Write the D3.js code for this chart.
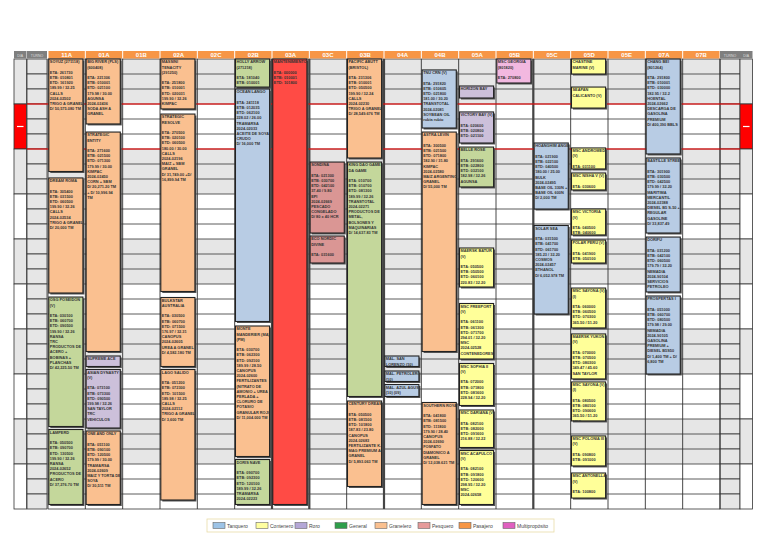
<!DOCTYPE html>
<html><head><meta charset="utf-8">
<script src="https://cdn.jsdelivr.net/npm/d3@7"></script>
<style>body{margin:0;background:#fff}svg{display:block;font-family:"Liberation Sans",Arial,sans-serif}</style>
</head><body><svg id="c" width="768" height="543"></svg>
<script>
const berths = ["11A","01A","01B","02A","02C","02B","03A","03C","03B","04A","04B","05A","05B","05C","05D","05E","07A","07B"];
const nDays = 10, shiftsPerDay = 3;
const redDay = 1;
const typeNames = ["Tanquero","Contenero","Roro","General","Granelero","Pesquero","Pasajero","Multipropósito"];
const typeColors = ["#b8cce4","#ffff99","#ccc0da","#c4d79b","#fac090","#da9694","#f79646","#f2b8e0"];
const legendSwatch = ["#9dc3e6","#ffffa0","#b4a7d6","#2e9e4a","#fac090","#e69a9a","#f79646","#e060c0"];
// [berth, start shift, end shift, type, text]
const ships = [
 ["11A",0,7.5,"Granelero","SOYUZ (271118)||ETA: 261730|ETB: 010801|ETD: 161920|189.99 / 32.25|CALLS|2024-02502|TRIGO A GRANEL|D/ 50,575.080 TM"],
 ["11A",7.93,15.6,"Granelero","DREAM ROMA||ETA: 305400|ETB: 031500|ETD: 060500|199.90 / 32.26|CALLS|2024-02534|TRIGO A GRANEL|D/ 20,000 TM"],
 ["11A",15.87,24.5,"General","OSG POSEIDON|(V)||ETA: 030100|ETB: 060700|ETD: 090500|199.90 / 32.26|RANSA|TRC|PRODUCTOS DE|ACERO +|BOBINAS +|PLANCHAS|D/ 42,225.50 TM"],
 ["11A",24.7,29.7,"General","LAMPERD||ETA: 050500|ETB: 090700|ETD: 130500|199.90 / 32.26|RANSA|2024-02652|PRODUCTOS DE|ACERO|D/ 37,276.70 TM"],
 ["01A",0,4.33,"Granelero","BIG RIVER (PLS)|(600408)||ETA: 221306|ETB: 010001|ETD: 021100|179.98 / 30.00|AGUNSA|2024-02436|SODA ASH A|GRANEL"],
 ["01A",4.87,19.5,"Granelero","STRATEGIC|ENTITY||ETA: 271600|ETB: 021500|ETD: 071300|179.99 / 30.00|KIMPAC|2024-02450|CORN + SBM|D/ 20,271.20 TM|+ D/ 10,996.94|TM"],
 ["01A",19.8,20.5,"Roro","SUPREME ACE"],
 ["01A",20.7,24.6,"Roro","ASIAN DYNASTY|(V)||ETA: 073100|ETB: 073300|ETD: 090500|199.98 / 32.26|SAN TAYLOR|TRC|VEHICULOS"],
 ["01A",24.8,29.7,"Granelero","ONE AND ONLY||ETA: 051100|ETB: 090100|ETD: 120500|179.99 / 30.00|TRAMARSA|2024-02609|MAIZ Y TORTA DE|SOYA|D/ 30,511 TM"],
 ["02A",0,3.33,"Granelero","MASSINI|TENACITY|(291250)||ETA: 251800|ETB: 010001|ETD: 020031|199.90 / 32.26|KIMPAC"],
 ["02A",3.67,15.5,"Granelero","STRATEGIC|RESOLVE||ETA: 270500|ETB: 020100|ETD: 060500|180.00 / 30.00|CALLS|2024-02196|MAIZ + SBM|GRANEL|D/ 31,749.00 +D/|16,899.94 TM"],
 ["02A",15.9,20.5,"Granelero","BULKSTAR|AUSTRALIA||ETA: 030500|ETB: 060700|ETD: 071500|176.97 / 32.31|CANOPUS|2024-02605|UREA A GRANEL|D/ 4,582.180 TM"],
 ["02A",20.7,29.4,"Granelero","LAGO SALIDO||ETA: 051200|ETB: 072300|ETD: 101500|189.98 / 32.25|CALLS|2024-02112|TRIGO A GRANEL|D/ 3,600 TM"],
 ["02B",0,1.87,"General","HOLLY ARROW|(271218)||ETA: 181040|ETB: 010001"],
 ["02B",2,17.5,"Tanquero","OCEAN LANGO||ETA: 241118|ETB: 012035|ETD: 062100|228.02 / 26.00|TRAMARSA|2024-02033|ACEITE DE SOYA|CRUDO|D/ 16,000 TM"],
 ["02B",17.8,26.5,"Granelero","MONTE|MANDERIER (MA)|(PM)||ETA: 030700|ETB: 062300|ETD: 092100|189.99 / 28.50|CANOPUS|2024-02600|FERTILIZANTES|(NITRATO DE|AMONIO + UREA|PERLADA +|CLORURO DE|POTASIO|GRANULAR ROJO)|D/ 11,004.000 TM"],
 ["02B",26.7,29.7,"General","DORIS NAVE||ETA: 090700|ETB: 092300|ETD: 120100|189.99 / 32.26|TRAMARSA|2024-02223"],
 ["03A",0,29.7,"Pasajero","MANTENIMIENTO||ETA: 000000|ETB: 010001|ETD: 101800"],
 ["03C",6.87,11.6,"Pesquero","SONDINA||ETA: 021300|ETB: 030700|ETD: 042100|37.40 / 9.80|EPI|2024-02669|PESCADO|CONGELADO|D/ 80 x 40 HCR"],
 ["03C",11.8,13.6,"Pesquero","ECO NORDIC|DIVINE||ETA: 031600"],
 ["03B",0,6.6,"Granelero","PACIFIC ABUTT|(BRISTOL)||ETA: 231306|ETB: 010001|ETD: 050500|199.90 / 32.24|CALLS|2024-02230|TRIGO A GRANEL|D/ 28,549.676 TM"],
 ["03B",6.87,22.5,"General","KING DAO GAME|DA GAME||ETA: 010700|ETB: 010700|ETD: 081300|189.99 / 32.26|TRANSTOTAL|2024-02271|PRODUCTOS DE|METAL,|BOLSONES Y|MAQUINARIAS|D/ 14,637.83 TM"],
 ["03B",22.8,28.5,"Granelero","CENTURY DREAM||ETA: 050500|ETB: 081500|ETD: 101800|187.83 / 23.80|CANOPUS|2024-02683|FERTILIZANTE K-|MAG PREMIUM A|GRANEL|D/ 5,893.063 TM"],
 ["04A",19.8,20.5,"Tanquero","MAL. SAN|LORENZO (10)"],
 ["04A",20.8,21.5,"Tanquero","MAL. PETROLERO|(10)"],
 ["04A",21.7,22.5,"Tanquero","MAL. AZUL AGUSTO|(10) (09)"],
 ["04B",0.73,4.6,"Tanquero","TNU CRN (V)||ETA: 291820|ETB: 010605|ETD: 021800|181.00 / 30.20|TRANSTOTAL|2024-02081|SOYBEAN OIL|rubia rubio"],
 ["04B",4.87,19.5,"Granelero","ASTRA LEVIN||ETA: 300500|ETB: 021500|ETD: 071800|182.90 / 31.80|KIMPAC|2024-02580|MAIZ ARGENTINO|GRANEL|D/ 55,000 TM"],
 ["04B",22.9,29.7,"Granelero","SOUTHERN ROYALS||ETA: 041800|ETB: 081500|ETD: 111800|179.90 / 28.40|CANOPUS|2024-02690|FOSFATO|DIAMONICO A|GRANEL|D/ 12,038.621 TM"],
 ["05A",1.8,2.6,"Roro","HORIZON BAY"],
 ["05A",3.53,5.6,"Roro","VICTORY BAY (V)||ETA: 020600|ETB: 020800|ETD: 021100"],
 ["05A",5.87,8.53,"General","BELLE ROSE||ETA: 291600|ETB: 022800|ETD: 032100|182.98 / 32.26|AGUNSA"],
 ["05A",12.6,15.2,"Contenero","MAERSK BATUR|(V)||ETA: 050500|ETB: 050500|ETD: 060100|220.83 / 32.20"],
 ["05A",16.3,20,"Contenero","MSC FREEPORT|(V)||ETA: 061100|ETB: 061300|ETD: 071700|294.01 / 32.20|MSC|2024-02528|CONTENEDORES"],
 ["05A",20.3,23.1,"Contenero","MSC SOPHIA II|(V)||ETA: 072000|ETB: 071800|ETD: 081600|228.94 / 32.20"],
 ["05A",23.4,25.9,"Contenero","MSC DARIANA (V)||ETA: 082100|ETB: 082000|ETD: 091600|216.88 / 32.22"],
 ["05A",26.1,29.7,"Contenero","MSC ACAPULCO|(V)||ETA: 082100|ETB: 091800|ETD: 120600|298.95 / 32.20|MSC|2024-02658"],
 ["05B",0,1.6,"Multipropósito","MSC GEORGIA|(801820)||ETA: 270800"],
 ["05C",5.6,10,"Tanquero","HOANGHIM ANGEL||ETA: 021900|ETB: 022100|ETD: 040500|180.00 / 25.00|BULK|2024-02495|BASE OIL 330N +|BASE OIL 600N|D/ 2,000 TM"],
 ["05C",11.1,17,"Tanquero","SOLAR SEA||ETA: 031500|ETB: 041700|ETD: 061700|185.23 / 32.20|COSMOS|2024-02457|ETHANOL|D/ 6,052.978 TM"],
 ["05D",0,1,"Contenero","CHASTINE|MARINE (V)"],
 ["05D",1.87,3.27,"Contenero","SEAPAN|CALICANTO (V)"],
 ["05D",5.93,7.33,"Contenero","MSC ANDROMEDA|(V)||ETA: 031100"],
 ["05D",7.6,8.73,"Contenero","MSC NISHA V (V)||ETA: 030600"],
 ["05D",10,11.73,"Contenero","MSC VICTORIA|(V)||ETA: 040500|ETB: 040600"],
 ["05D",12.07,13.6,"Contenero","POLAR PERU (V)||ETA: 041900|ETB: 050100"],
 ["05D",15.27,17.93,"Contenero","MSC SAYONA (V)|(I)||ETA: 060000|ETB: 060500|ETD: 070300|365.50 / 51.20"],
 ["05D",18.33,21.33,"Contenero","MAERSK YUKON|(V)||ETA: 070000|ETB: 070500|ETD: 080300|349.47 / 45.60|SAN TAYLOR"],
 ["05D",21.53,24.13,"Contenero","MSC SAYONA (V)|(I)||ETA: 080500|ETB: 080100|ETD: 090600|365.50 / 51.20|MSC"],
 ["05D",25.13,27.13,"Contenero","MSC POLONIA III|(V)||ETA: 090800|ETB: 091000"],
 ["05D",27.6,29.27,"Contenero","MSC ANTONELLA|(V)||ETA: 100800"],
 ["07A",0,6.33,"Tanquero","CHANG BEI|(801264)||ETA: 291800|ETB: 010001|ETD: 030000|182.95 / 32.2|HOENTAL|2024-02662|DESCARGA DE|GASOLINA|PREMIUM|D/ 400,390 BBLS"],
 ["07A",6.6,11.6,"Tanquero","BASTILLE STREET||ETA: 301900|ETB: 030500|ETD: 042500|179.99 / 32.20|MARITIMA|MERCANTIL|2024-02388|DIESEL B5 S-50 +|REGULAR|GASOLINE|D/ 33,837.49"],
 ["07A",11.87,15.53,"Tanquero","DORIFU||ETA: 031200|ETB: 042100|ETD: 060500|179.79 / 32.20|NEMADIA|2024-90104|SERVICIOS|PETROLEO"],
 ["07A",15.8,21,"Tanquero","PROSPERTAS I||ETA: 051000|ETB: 060700|ETD: 080500|179.98 / 29.00|NEMADIA|2024-90105|GASOLINA|PREMIUM +|DIESEL B5S50|D/ 1,400 TM + D/|6,800 TM"]
];

const svg = d3.select("#c");
const x = d3.scaleBand().domain(berths).range([48,720]);
const y = d3.scaleLinear().domain([0, nDays*shiftsPerDay]).range([59,509]);
const color = d3.scaleOrdinal().domain(typeNames).range(typeColors);
const shifts = d3.range(nDays*shiftsPerDay);

const g = svg.append("g");
shifts.forEach(s=>{
  const day = Math.floor(s/3);
  const fill = day%2===0 ? "#e6e6e6" : "#ffffff";
  g.append("rect").attr("x",48).attr("y",y(s)).attr("width",672).attr("height",y(s+1)-y(s)).attr("fill",fill);
  g.append("rect").attr("x",27).attr("y",y(s)).attr("width",20).attr("height",y(s+1)-y(s)).attr("fill","#e6e6e6").attr("stroke","#333").attr("stroke-width",0.8);
  g.append("rect").attr("x",720).attr("y",y(s)).attr("width",20).attr("height",y(s+1)-y(s)).attr("fill","#e6e6e6").attr("stroke","#333").attr("stroke-width",0.8);
});
d3.range(nDays).forEach(d=>{
  const f = d===redDay ? "#ff0000" : (d%2===0 ? "#e6e6e6" : "#ffffff");
  [14,740].forEach(xx=>{
    g.append("rect").attr("x",xx).attr("y",y(d*3)).attr("width",12.5).attr("height",y(d*3+3)-y(d*3)).attr("fill",f).attr("stroke","#333").attr("stroke-width",0.8);
    if(d===redDay) g.append("rect").attr("x",xx+3).attr("y",(y(d*3)+y(d*3+3))/2-0.6).attr("width",6.5).attr("height",1.2).attr("fill","#fff");
  });
});
shifts.concat([30]).forEach(s=>{
  g.append("line").attr("x1",48).attr("x2",720).attr("y1",y(s)).attr("y2",y(s)).attr("stroke","#333").attr("stroke-width",0.8);
});
berths.forEach(b=>{
  g.append("line").attr("x1",x(b)).attr("x2",x(b)).attr("y1",59).attr("y2",509).attr("stroke","#333").attr("stroke-width",0.9);
});
g.append("line").attr("x1",720).attr("x2",720).attr("y1",59).attr("y2",509).attr("stroke","#333");
["03A","03C","04A","05C"].forEach(b=>{
  g.append("line").attr("x1",x(b)).attr("x2",x(b)).attr("y1",59).attr("y2",509).attr("stroke","#444").attr("stroke-width",2.2);
});
[redDay*3, redDay*3+3].forEach(s=>{
  g.append("line").attr("x1",27).attr("x2",740).attr("y1",y(s)).attr("y2",y(s)).attr("stroke","#ff0000").attr("stroke-width",1);
});
berths.forEach(b=>{
  svg.append("rect").attr("x",x(b)+0.5).attr("y",51).attr("width",x.bandwidth()-1).attr("height",7.5).attr("fill","#f79646");
  svg.append("text").attr("x",x(b)+x.bandwidth()/2).attr("y",57).attr("text-anchor","middle").attr("font-size",6).attr("font-weight","bold").attr("fill","#fff").text(b);
});
[[14,12.5,"DIA"],[27,20,"TURNO"],[720,20,"TURNO"],[740,12.5,"DIA"]].forEach(([xx,w,t])=>{
  svg.append("rect").attr("x",xx).attr("y",51).attr("width",w).attr("height",7.5).attr("fill","#7f7f7f");
  svg.append("text").attr("x",xx+w/2).attr("y",56.5).attr("text-anchor","middle").attr("font-size",3.5).attr("fill","#ddd").text(t);
});
const defs = svg.append("defs");
ships.forEach((s,i)=>{
  const [b,st,en,type,txt] = s;
  const x0 = x(b)+0.8, w = x.bandwidth()-3.2, y0 = y(st), h = y(en)-y(st);
  svg.append("rect").attr("x",x0+1.5).attr("y",y0+1.5).attr("width",w).attr("height",h).attr("fill","#555");
  svg.append("rect").attr("x",x0).attr("y",y0).attr("width",w).attr("height",h)
    .attr("fill", b==="03A" ? "#ff4b45" : color(type)).attr("stroke","#222").attr("stroke-width",1.1);
  defs.append("clipPath").attr("id","cp"+i).append("rect").attr("x",x0).attr("y",y0).attr("width",w).attr("height",h);
  const t = svg.append("text").attr("clip-path","url(#cp"+i+")").attr("font-size",3.9).attr("font-weight","bold").attr("fill","#333");
  txt.split("|").forEach((line,k)=>{
    t.append("tspan").attr("x",x0+1).attr("y",y0+4.3+k*5.2).text(line);
  });
});
const lg = svg.append("g");
lg.append("rect").attr("x",207).attr("y",519).attr("width",347).attr("height",13).attr("fill","#fff").attr("stroke","#e8dca8").attr("stroke-width",0.8);
const lxPos = [213,256,295,335,375,418,459,503];
typeNames.forEach((n,i)=>{
  lg.append("rect").attr("x",lxPos[i]).attr("y",522.5).attr("width",12).attr("height",6).attr("fill",legendSwatch[i]).attr("stroke","#666").attr("stroke-width",0.6);
  lg.append("text").attr("x",lxPos[i]+14).attr("y",527.8).attr("font-size",5).attr("fill","#444").text(n);
});
</script></body></html>
